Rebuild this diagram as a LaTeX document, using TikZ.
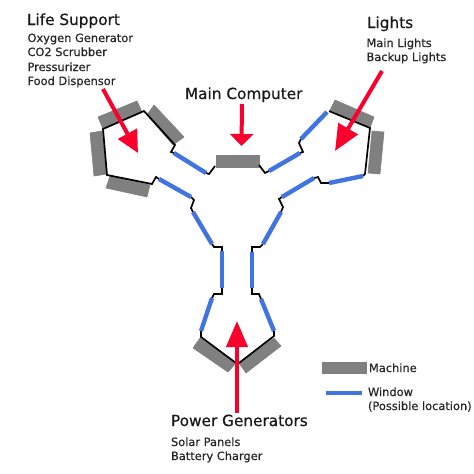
\documentclass[tikz,border=0pt]{standalone}
\usepackage{fontspec}
\newfontfamily\labelfont[FakeBold=0.5]{DejaVu Sans}
\usetikzlibrary{arrows.meta}
\definecolor{mach}{RGB}{128,128,128}
\definecolor{win}{RGB}{65,115,225}
\definecolor{arrowred}{RGB}{250,0,45}
\tikzset{
  machine/.style={fill=mach,draw=mach,line width=0.6pt},
  windowline/.style={draw=win,line width=4.4pt},
  wall/.style={draw=black,line width=1.7pt,line join=miter},
  redarrow/.style 2 args={draw=arrowred,line width=4pt,-{Triangle[length=#1pt,width=#2pt,fill=arrowred]}},
  head/.style={anchor=base west,inner sep=0pt,outer sep=0pt,font=\labelfont\fontsize{15.3}{18}\selectfont,text=black!90},
  item/.style={anchor=base west,inner sep=0pt,outer sep=0pt,font=\labelfont\fontsize{11.4}{13}\selectfont,text=black!85},
}
\begin{document}
\begin{tikzpicture}[x=1pt,y=-1pt]
\useasboundingbox (0,0) rectangle (474,474);
% machines
\filldraw[machine] (98,117)--(137,101)--(142,112)--(103,129)--cycle;
\filldraw[machine] (154,105)--(184,137)--(173,145)--(147,115)--cycle;
\filldraw[machine] (90,133)--(102,131)--(107,174)--(94,176)--cycle;
\filldraw[machine] (110,176)--(150,185)--(147,197)--(106,188)--cycle;
\filldraw[machine] (216,155)--(259,155)--(259,167)--(216,167)--cycle;
\filldraw[machine] (335,100)--(374,117)--(370,128)--(330,110)--cycle;
\filldraw[machine] (372,131)--(384,132)--(380,174)--(368,173)--cycle;
\filldraw[machine] (200,338)--(236,363)--(228,372)--(193,348)--cycle;
\filldraw[machine] (239,363)--(274,338)--(281,346)--(246,373)--cycle;
% walls
\draw[wall] (174,153)--(171,152)--(175,145)--(144,111)--(103,129)--(107,175)--(152,184)--(156,177)--(159,179);
\draw[wall] (206,173)--(209,174)--(215,166);
\draw[wall] (191,197)--(194,200)--(191,208)--(193,212);
\draw[wall] (212,244)--(214,247)--(222,247)--(222,252);
\draw[wall] (222,287)--(222,294)--(214,294)--(212,298);
\draw[wall] (201,331)--(201,337)--(236,363);
\draw[wall] (239,363)--(274,336)--(274,331);
\draw[wall] (261,299)--(259,294)--(252,294)--(252,287);
\draw[wall] (252,252)--(252,247)--(260,247)--(263,244);
\draw[wall] (281,212)--(283,207)--(279,199)--(282,197);
\draw[wall] (314,178)--(318,177)--(321,183)--(329,183);
\draw[wall] (363,176)--(365,174)--(370,128)--(329,111);
\draw[wall] (301,139)--(299,143)--(303,152)--(300,153);
\draw[wall] (269,171)--(265,173)--(259,165);
% windows
\draw[windowline] (174,153)--(206,173);
\draw[windowline] (159,179)--(191,197);
\draw[windowline] (193,212)--(212,244);
\draw[windowline] (222,251)--(222,288);
\draw[windowline] (212,298)--(201,331);
\draw[windowline] (274,331)--(261,299);
\draw[windowline] (252,288)--(252,252);
\draw[windowline] (263,244)--(281,212);
\draw[windowline] (282,197)--(314,178);
\draw[windowline] (329,183)--(363,176);
\draw[windowline] (327,112)--(301,139);
\draw[windowline] (300,153)--(269,171);
% arrows
\coordinate (lifeA) at (103,89); \coordinate (lifeB) at (138,153);
\coordinate (compA) at (242,104); \coordinate (compB) at (241.5,146);
\coordinate (lightA) at (382,71); \coordinate (lightB) at (335,151);
\coordinate (powA) at (237,413); \coordinate (powB) at (237,321);
\draw[redarrow={22}{21}] (lifeA)--(lifeB);
\draw[redarrow={12}{23}] (compA)--(compB);
\draw[redarrow={26}{22}] (lightA)--(lightB);
\draw[redarrow={26}{21}] (powA)--(powB);
% texts
\node[head] (t1) at (27,25) {Life Support};
\node[item] (t1a) at (27.5,42) {Oxygen Generator};
\node[item] (t1b) at (27.5,56) {CO2 Scrubber};
\node[item] (t1c) at (27.5,71) {Pressurizer};
\node[item] (t1d) at (27.5,85) {Food Dispensor};
\node[head] (t2) at (185,99) {Main Computer};
\node[head] (t3) at (367,28) {Lights};
\node[item] (t3a) at (366.5,47) {Main Lights};
\node[item] (t3b) at (366.5,61) {Backup Lights};
\node[head] (t4) at (171,426) {Power Generators};
\node[item] (t4a) at (171,446) {Solar Panels};
\node[item] (t4b) at (171,460) {Battery Charger};
% legend
\filldraw[machine] (322,362) rectangle (366,373);
\draw[windowline] (326,393)--(362,393);
\node[item] (l1) at (369,372) {Machine};
\node[item] (l2) at (368,396) {Window};
\node[item] (l3) at (368,410) {(Possible location)};
\end{tikzpicture}
\end{document}
